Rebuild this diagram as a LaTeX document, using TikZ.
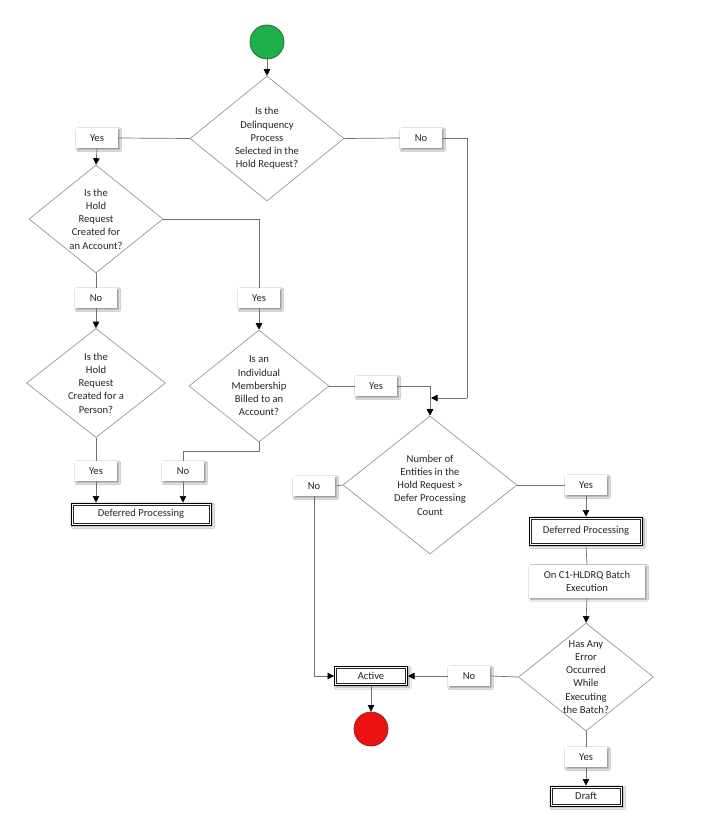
\documentclass[tikz,border=0pt]{standalone}
\usepackage{fontspec}
\setmainfont{Carlito}
\usetikzlibrary{shapes.geometric,arrows.meta,shadows.blur,calc}
\definecolor{linegray}{HTML}{707070}
\definecolor{diagray}{HTML}{8A8A8A}
\definecolor{txt}{HTML}{262626}
\definecolor{startgreen}{HTML}{1DB04B}
\definecolor{startedge}{HTML}{2E6B3A}
\definecolor{endred}{HTML}{EE1111}
\definecolor{endedge}{HTML}{8A2A2A}
\tikzset{
  x=1pt, y=-1pt,
  every node/.style={font=\fontsize{10.6}{13.2}\selectfont, text=txt},
  dia/.style={diamond, draw=diagray, line width=0.6pt, fill=white, inner sep=0pt},
  diatext/.style={align=center, inner sep=0pt},
  lbl/.style={fill=white, inner sep=1pt, minimum width=42pt, minimum height=20pt,
    blur shadow={shadow xshift=1.8pt, shadow yshift=-1.8pt, shadow blur steps=6, shadow opacity=45}},
  stepbox/.style={draw=black, line width=1pt, fill=white, inner sep=2pt,
    blur shadow={shadow xshift=1.8pt, shadow yshift=-1.8pt, shadow blur steps=6, shadow opacity=35},
    path picture={\draw[black!85, line width=0.4pt]
      ([shift={(2pt,-2pt)}]path picture bounding box.north west) rectangle
      ([shift={(-2pt,2pt)}]path picture bounding box.south east);}},
  conn/.style={draw=linegray, line width=0.7pt},
  arr/.style={conn, -{Triangle[length=6.5pt,width=6.5pt,fill=black,color=black]}},
}
\begin{document}
\begin{tikzpicture}
\useasboundingbox[fill=white] (0,0) rectangle (703,829);

% start / end
\node[circle, draw=startedge, line width=0.8pt, fill=startgreen, minimum size=34pt, inner sep=0pt] (start) at (267,42) {};
\node[circle, draw=endedge, line width=0.8pt, fill=endred, minimum size=34pt, inner sep=0pt] (end) at (371,729) {};

% diamonds
\node[dia, minimum width=154pt, minimum height=125pt] (d1) at (267,138.5) {};
\node[diatext] (t1) at (d1) {Is the\\Delinquency\\Process\\Selected in the\\Hold Request?};
\node[dia, minimum width=134pt, minimum height=108pt] (d2) at (96,219) {};
\node[diatext] (t2) at (d2) {Is the\\Hold\\Request\\Created for\\an Account?};
\node[dia, minimum width=139pt, minimum height=109pt] (d3) at (96,383) {};
\node[diatext] (t3) at (d3) {Is the\\Hold\\Request\\Created for a\\Person?};
\node[dia, minimum width=140pt, minimum height=112pt] (d4) at (259,386) {};
\node[diatext] (t4) at (d4) {Is an\\Individual\\Membership\\Billed to an\\Account?};
\node[dia, minimum width=174pt, minimum height=138pt] (d5) at (430,485) {};
\node[diatext] (t5) at (d5) {Number of\\Entities in the\\Hold Request >\\Defer Processing\\Count};
\node[dia, minimum width=135pt, minimum height=108pt] (d6) at (586,677) {};
\node[diatext] (t6) at (d6) {Has Any\\Error\\Occurred\\While\\Executing\\the Batch?};

% boxes
\node[stepbox, minimum width=140pt, minimum height=22pt] (dp1) at (141,514) {Deferred Processing};
\node[stepbox, minimum width=113pt, minimum height=28pt] (dp2) at (586,531) {Deferred Processing};
\node[stepbox, minimum width=73pt, minimum height=19pt] (act) at (371,676) {Active};
\node[stepbox, minimum width=72pt, minimum height=20pt] (draft) at (586,796) {Draft};

% labels
\node[lbl] (y1) at (97,138) {Yes};
\node[lbl] (n1) at (421,138) {No};
\node[lbl] (n2) at (96,298) {No};
\node[lbl] (y2) at (259,298) {Yes};
\node[lbl] (y4) at (376,386) {Yes};
\node[lbl] (y3) at (96,471) {Yes};
\node[lbl] (n4) at (183,471) {No};
\node[lbl] (n5) at (314,486) {No};
\node[lbl] (y5) at (586,485) {Yes};
\node[lbl, minimum width=116pt, minimum height=33pt, align=center] (ev) at (587,581) {On C1-HLDRQ Batch\\Execution};
\node[lbl] (n6) at (469,676) {No};
\node[lbl] (y6) at (586,757) {Yes};

\coordinate (c1) at (467,398);
\coordinate (j) at (431,398);

% connectors
\draw[arr] (start) -- (d1.north);
\draw[conn] (d1.west) -- (y1.east);
\draw[arr] (y1.south) -- (d2.north);
\draw[conn] (d1.east) -- (n1.west);
\draw[conn] (n1.east) -| (c1);
\draw[arr] (c1) -- (j);
\draw[conn] (d2.south) -- (n2.north);
\draw[arr] (n2.south) -- (d3.north);
\draw[conn] (d2.east) -| (y2.north);
\draw[arr] (y2.south) -- (d4.north);
\draw[conn] (d4.east) -- (y4.west);
\draw[arr] (y4.east) -| (d5.north);
\draw[conn] (d3.south) -- (y3.north);
\draw[arr] (y3.south) -- (y3.south |- dp1.north);
\draw[conn] (d4.south) -- ++(0,9.5) -| (n4.north);
\draw[arr] (n4.south) -- (n4.south |- dp1.north);
\draw[conn] (d5.west) -- (n5.east);
\draw[arr] (n5.south) |- (act.west);
\draw[conn] (d5.east) -- (y5.west);
\draw[arr] (y5.south) -- (dp2.north);
\draw[conn] (dp2.south) -- (ev.north);
\draw[arr] (ev.south) -- (d6.north);
\draw[conn] (d6.west) -- (n6.east);
\draw[arr] (n6.west) -- (act.east);
\draw[arr] (act.south) -- (end.north);
\draw[conn] (d6.south) -- (y6.north);
\draw[arr] (y6.south) -- (draft.north);
\end{tikzpicture}
\end{document}
